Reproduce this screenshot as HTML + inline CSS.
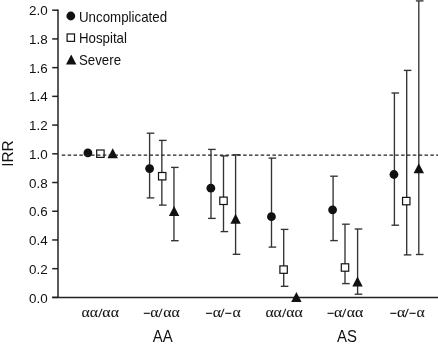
<!DOCTYPE html>
<html><head><meta charset="utf-8"><style>
html,body{margin:0;padding:0;background:#fff;width:438px;height:345px;overflow:hidden}
svg{display:block}
.t{font-family:"Liberation Sans",Arial,sans-serif;font-size:13.4px;fill:#111}
.l{font-family:"Liberation Sans",Arial,sans-serif;font-size:15.4px;fill:#111}
.a{font-family:"Liberation Serif","Times New Roman",serif;font-size:14px;fill:#111;stroke:#111;stroke-width:0.08px}
</style></head><body>
<svg width="438" height="345" viewBox="0 0 438 345">
<line x1="149.6" y1="133.2" x2="149.6" y2="197.9" stroke="#333" stroke-width="1.35"/>
<line x1="146.70" y1="133.2" x2="154.30" y2="133.2" stroke="#333" stroke-width="1.35"/>
<line x1="146.70" y1="197.9" x2="154.30" y2="197.9" stroke="#333" stroke-width="1.35"/>
<line x1="161.85" y1="140.4" x2="161.85" y2="205.1" stroke="#333" stroke-width="1.35"/>
<line x1="158.95" y1="140.4" x2="166.55" y2="140.4" stroke="#333" stroke-width="1.35"/>
<line x1="158.95" y1="205.1" x2="166.55" y2="205.1" stroke="#333" stroke-width="1.35"/>
<line x1="173.95" y1="167.4" x2="173.95" y2="240.7" stroke="#333" stroke-width="1.35"/>
<line x1="171.05" y1="167.4" x2="178.65" y2="167.4" stroke="#333" stroke-width="1.35"/>
<line x1="171.05" y1="240.7" x2="178.65" y2="240.7" stroke="#333" stroke-width="1.35"/>
<line x1="211.0" y1="149.4" x2="211.0" y2="218.4" stroke="#333" stroke-width="1.35"/>
<line x1="208.10" y1="149.4" x2="215.70" y2="149.4" stroke="#333" stroke-width="1.35"/>
<line x1="208.10" y1="218.4" x2="215.70" y2="218.4" stroke="#333" stroke-width="1.35"/>
<line x1="223.5" y1="155.9" x2="223.5" y2="231.6" stroke="#333" stroke-width="1.35"/>
<line x1="220.60" y1="155.9" x2="228.20" y2="155.9" stroke="#333" stroke-width="1.35"/>
<line x1="220.60" y1="231.6" x2="228.20" y2="231.6" stroke="#333" stroke-width="1.35"/>
<line x1="235.6" y1="154.8" x2="235.6" y2="254.3" stroke="#333" stroke-width="1.35"/>
<line x1="232.70" y1="154.8" x2="240.30" y2="154.8" stroke="#333" stroke-width="1.35"/>
<line x1="232.70" y1="254.3" x2="240.30" y2="254.3" stroke="#333" stroke-width="1.35"/>
<line x1="271.5" y1="158.1" x2="271.5" y2="247.1" stroke="#333" stroke-width="1.35"/>
<line x1="268.60" y1="158.1" x2="276.20" y2="158.1" stroke="#333" stroke-width="1.35"/>
<line x1="268.60" y1="247.1" x2="276.20" y2="247.1" stroke="#333" stroke-width="1.35"/>
<line x1="283.7" y1="229.4" x2="283.7" y2="286.3" stroke="#333" stroke-width="1.35"/>
<line x1="280.80" y1="229.4" x2="288.40" y2="229.4" stroke="#333" stroke-width="1.35"/>
<line x1="280.80" y1="286.3" x2="288.40" y2="286.3" stroke="#333" stroke-width="1.35"/>
<line x1="333.1" y1="176.2" x2="333.1" y2="240.6" stroke="#333" stroke-width="1.35"/>
<line x1="330.20" y1="176.2" x2="337.80" y2="176.2" stroke="#333" stroke-width="1.35"/>
<line x1="330.20" y1="240.6" x2="337.80" y2="240.6" stroke="#333" stroke-width="1.35"/>
<line x1="345.0" y1="224.2" x2="345.0" y2="283.6" stroke="#333" stroke-width="1.35"/>
<line x1="342.10" y1="224.2" x2="349.70" y2="224.2" stroke="#333" stroke-width="1.35"/>
<line x1="342.10" y1="283.6" x2="349.70" y2="283.6" stroke="#333" stroke-width="1.35"/>
<line x1="357.6" y1="229.0" x2="357.6" y2="294.2" stroke="#333" stroke-width="1.35"/>
<line x1="354.70" y1="229.0" x2="362.30" y2="229.0" stroke="#333" stroke-width="1.35"/>
<line x1="354.70" y1="294.2" x2="362.30" y2="294.2" stroke="#333" stroke-width="1.35"/>
<line x1="394.4" y1="93.0" x2="394.4" y2="225.2" stroke="#333" stroke-width="1.35"/>
<line x1="391.50" y1="93.0" x2="399.10" y2="93.0" stroke="#333" stroke-width="1.35"/>
<line x1="391.50" y1="225.2" x2="399.10" y2="225.2" stroke="#333" stroke-width="1.35"/>
<line x1="406.7" y1="70.4" x2="406.7" y2="254.9" stroke="#333" stroke-width="1.35"/>
<line x1="403.80" y1="70.4" x2="411.40" y2="70.4" stroke="#333" stroke-width="1.35"/>
<line x1="403.80" y1="254.9" x2="411.40" y2="254.9" stroke="#333" stroke-width="1.35"/>
<line x1="418.8" y1="0.9" x2="418.8" y2="254.5" stroke="#333" stroke-width="1.35"/>
<line x1="415.90" y1="0.9" x2="423.50" y2="0.9" stroke="#333" stroke-width="1.35"/>
<line x1="415.90" y1="254.5" x2="423.50" y2="254.5" stroke="#333" stroke-width="1.35"/>
<line x1="58.0" y1="9.5" x2="58.0" y2="298.09999999999997" stroke="#222" stroke-width="1.5"/>
<line x1="52.2" y1="297.4" x2="438" y2="297.4" stroke="#222" stroke-width="1.5"/>
<line x1="52.2" y1="10.20" x2="58.0" y2="10.20" stroke="#222" stroke-width="1.5"/>
<text transform="translate(47.6,15.30)" text-anchor="end" class="t">2.0</text>
<line x1="52.2" y1="38.92" x2="58.0" y2="38.92" stroke="#222" stroke-width="1.5"/>
<text transform="translate(47.6,44.02)" text-anchor="end" class="t">1.8</text>
<line x1="52.2" y1="67.64" x2="58.0" y2="67.64" stroke="#222" stroke-width="1.5"/>
<text transform="translate(47.6,72.74)" text-anchor="end" class="t">1.6</text>
<line x1="52.2" y1="96.36" x2="58.0" y2="96.36" stroke="#222" stroke-width="1.5"/>
<text transform="translate(47.6,101.46)" text-anchor="end" class="t">1.4</text>
<line x1="52.2" y1="125.08" x2="58.0" y2="125.08" stroke="#222" stroke-width="1.5"/>
<text transform="translate(47.6,130.18)" text-anchor="end" class="t">1.2</text>
<line x1="52.2" y1="153.80" x2="58.0" y2="153.80" stroke="#222" stroke-width="1.5"/>
<text transform="translate(47.6,158.90)" text-anchor="end" class="t">1.0</text>
<line x1="52.2" y1="182.52" x2="58.0" y2="182.52" stroke="#222" stroke-width="1.5"/>
<text transform="translate(47.6,187.62)" text-anchor="end" class="t">0.8</text>
<line x1="52.2" y1="211.24" x2="58.0" y2="211.24" stroke="#222" stroke-width="1.5"/>
<text transform="translate(47.6,216.34)" text-anchor="end" class="t">0.6</text>
<line x1="52.2" y1="239.96" x2="58.0" y2="239.96" stroke="#222" stroke-width="1.5"/>
<text transform="translate(47.6,245.06)" text-anchor="end" class="t">0.4</text>
<line x1="52.2" y1="268.68" x2="58.0" y2="268.68" stroke="#222" stroke-width="1.5"/>
<text transform="translate(47.6,273.78)" text-anchor="end" class="t">0.2</text>
<line x1="52.2" y1="297.40" x2="58.0" y2="297.40" stroke="#222" stroke-width="1.5"/>
<text transform="translate(47.6,302.50)" text-anchor="end" class="t">0.0</text>
<circle cx="87.9" cy="152.9" r="4.4" fill="#111"/>
<rect x="96.70" y="150.00" width="7.4" height="7.4" fill="#fff" stroke="#111" stroke-width="1.2"/>
<polygon points="112.70,148.20 117.90,158.20 107.50,158.20" fill="#111"/>
<circle cx="149.6" cy="168.6" r="4.4" fill="#111"/>
<rect x="158.50" y="172.50" width="7.4" height="7.4" fill="#fff" stroke="#111" stroke-width="1.2"/>
<polygon points="174.10,206.00 179.30,216.00 168.90,216.00" fill="#111"/>
<circle cx="210.85" cy="188.2" r="4.4" fill="#111"/>
<rect x="219.80" y="197.10" width="7.4" height="7.4" fill="#fff" stroke="#111" stroke-width="1.2"/>
<polygon points="235.60,213.80 240.80,223.80 230.40,223.80" fill="#111"/>
<circle cx="271.45" cy="216.7" r="4.4" fill="#111"/>
<rect x="279.90" y="265.90" width="7.4" height="7.4" fill="#fff" stroke="#111" stroke-width="1.2"/>
<polygon points="296.40,292.00 301.60,302.00 291.20,302.00" fill="#111"/>
<circle cx="332.6" cy="209.8" r="4.4" fill="#111"/>
<rect x="341.30" y="263.80" width="7.4" height="7.4" fill="#fff" stroke="#111" stroke-width="1.2"/>
<polygon points="357.50,276.50 362.70,286.50 352.30,286.50" fill="#111"/>
<circle cx="393.95" cy="174.5" r="4.4" fill="#111"/>
<rect x="402.55" y="197.40" width="7.4" height="7.4" fill="#fff" stroke="#111" stroke-width="1.2"/>
<polygon points="418.80,163.30 424.00,173.30 413.60,173.30" fill="#111"/>
<line x1="61.8" y1="155.1" x2="438" y2="155.1" stroke="#222" stroke-width="1.3" stroke-dasharray="3.5 2.35"/>
<circle cx="70.8" cy="16.0" r="4.4" fill="#111"/>
<text transform="translate(79,21.6) scale(0.995,1.06)" class="t">Uncomplicated</text>
<rect x="67.10" y="33.95" width="7.4" height="7.4" fill="#fff" stroke="#111" stroke-width="1.2"/>
<text transform="translate(79,43.0) scale(0.99,1.06)" class="t">Hospital</text>
<polygon points="71.20,54.60 76.40,64.60 66.00,64.60" fill="#111"/>
<text transform="translate(79,64.5) scale(0.99,1.06)" class="t">Severe</text>
<text transform="translate(12.9,153.6) rotate(-89.95) scale(1.0,1.03)" text-anchor="middle" class="l" style="font-size:15.4px">IRR</text>
<text transform="scale(1.08,1)" y="317.1" class="a"><tspan x="75.59" style="font-size:14.6px">α</tspan><tspan x="83.09" style="font-size:14.6px">α</tspan><tspan x="91.20" style="font-size:12.5px" stroke-width="0.35">/</tspan><tspan x="94.75" style="font-size:14.6px">α</tspan><tspan x="102.53" style="font-size:14.6px">α</tspan></text>
<text transform="scale(1.08,1)" y="317.1" class="a"><tspan x="132.68" dy="-0.10" style="font-size:11.2px" stroke="#111" stroke-width="0.45">−</tspan><tspan x="139.20" dy="0.10" style="font-size:14.6px">α</tspan><tspan x="146.85" style="font-size:12.5px" stroke-width="0.35">/</tspan><tspan x="151.05" style="font-size:14.6px">α</tspan><tspan x="158.73" style="font-size:14.6px">α</tspan></text>
<text transform="scale(1.08,1)" y="317.1" class="a"><tspan x="190.37" dy="-0.10" style="font-size:11.2px" stroke="#111" stroke-width="0.45">−</tspan><tspan x="196.97" dy="0.10" style="font-size:14.6px">α</tspan><tspan x="204.26" style="font-size:12.5px" stroke-width="0.35">/</tspan><tspan x="208.14" dy="-0.10" style="font-size:11.2px" stroke="#111" stroke-width="0.45">−</tspan><tspan x="215.22" dy="0.10" style="font-size:14.6px">α</tspan></text>
<text transform="scale(1.08,1)" y="317.1" class="a"><tspan x="245.77" style="font-size:14.6px">α</tspan><tspan x="253.27" style="font-size:14.6px">α</tspan><tspan x="261.39" style="font-size:12.5px" stroke-width="0.35">/</tspan><tspan x="264.94" style="font-size:14.6px">α</tspan><tspan x="272.72" style="font-size:14.6px">α</tspan></text>
<text transform="scale(1.08,1)" y="317.1" class="a"><tspan x="302.68" dy="-0.10" style="font-size:11.2px" stroke="#111" stroke-width="0.45">−</tspan><tspan x="309.20" dy="0.10" style="font-size:14.6px">α</tspan><tspan x="316.85" style="font-size:12.5px" stroke-width="0.35">/</tspan><tspan x="321.05" style="font-size:14.6px">α</tspan><tspan x="328.73" style="font-size:14.6px">α</tspan></text>
<text transform="scale(1.08,1)" y="317.1" class="a"><tspan x="360.92" dy="-0.10" style="font-size:11.2px" stroke="#111" stroke-width="0.45">−</tspan><tspan x="367.53" dy="0.10" style="font-size:14.6px">α</tspan><tspan x="374.81" style="font-size:12.5px" stroke-width="0.35">/</tspan><tspan x="378.70" dy="-0.10" style="font-size:11.2px" stroke="#111" stroke-width="0.45">−</tspan><tspan x="385.77" dy="0.10" style="font-size:14.6px">α</tspan></text>
<text transform="translate(162.8,341.8) scale(0.97,1.1)" text-anchor="middle" class="l">AA</text>
<text transform="translate(346.9,341.8) scale(0.97,1.1)" text-anchor="middle" class="l">AS</text>
</svg>
</body></html>
